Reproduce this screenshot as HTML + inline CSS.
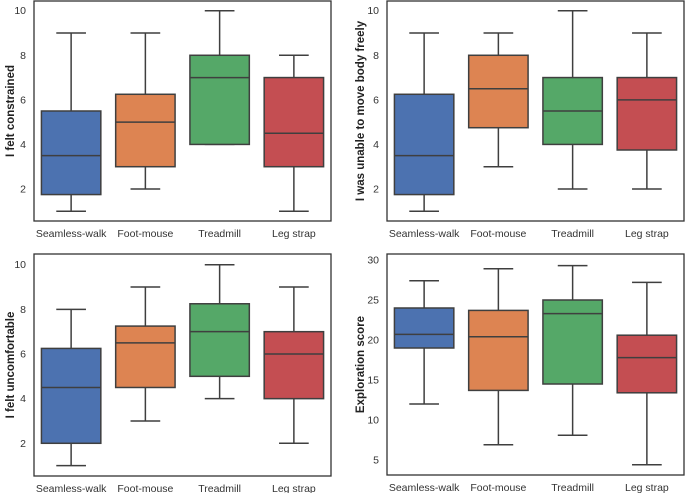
<!DOCTYPE html>
<html><head><meta charset="utf-8"><style>
html,body{margin:0;padding:0;background:#fff;}
svg{display:block;font-family:"Liberation Sans","DejaVu Sans",sans-serif;}
</style></head><body>
<svg id="fig" width="685" height="493" viewBox="0 0 685 493" xmlns="http://www.w3.org/2000/svg"></svg>
<script>
const categories = ["Seamless-walk","Foot-mouse","Treadmill","Leg strap"];
const colors = ["#4c72b0","#dd8452","#55a868","#c44e52"];
// [min, q1, median, q3, max]
const constrainedStats = [[1,1.75,3.5,5.5,9],[2,3,5,6.25,9],[4,4,7,8,10],[1,3,4.5,7,8]];
const moveFreelyStats = [[1,1.75,3.5,6.25,9],[3,4.75,6.5,8,9],[2,4,5.5,7,10],[2,3.75,6,7,9]];
const uncomfortableStats = [[1,2,4.5,6.25,8],[3,4.5,6.5,7.25,9],[4,5,7,8.25,10],[2,4,6,7,9]];
const explorationStats = [[12,19,20.7,24,27.4],[6.9,13.7,20.4,23.7,28.9],[8.1,14.5,23.3,25,29.3],[4.4,13.4,17.8,20.6,27.2]];
const likertTicks = [2,4,6,8,10];
const explorationTicks = [5,10,15,20,25,30];

const panels = [
  {name:"constrained", label:"I felt constrained", stats:constrainedStats, ticks:likertTicks,
   l:34,r:331,t:1,b:221, y0:2,py0:189, y1:10,py1:10.7, labX:14},
  {name:"move-freely", label:"I was unable to move body freely", stats:moveFreelyStats, ticks:likertTicks,
   l:387,r:684,t:1,b:221, y0:2,py0:189, y1:10,py1:10.7, labX:364},
  {name:"uncomfortable", label:"I felt uncomfortable", stats:uncomfortableStats, ticks:likertTicks,
   l:34,r:331,t:254,b:476, y0:2,py0:443.3, y1:10,py1:264.7, labX:14},
  {name:"exploration", label:"Exploration score", stats:explorationStats, ticks:explorationTicks,
   l:387,r:684,t:254,b:475, y0:5,py0:460, y1:30,py1:260, labX:364}
];
const NS="http://www.w3.org/2000/svg";
const svg=document.getElementById("fig");
function mk(tag,attrs,parent){const e=document.createElementNS(NS,tag);for(const k in attrs)e.setAttribute(k,attrs[k]);(parent||svg).appendChild(e);return e;}
panels.forEach(p=>{
  const g=mk("g",{});
  
  
  const ys=v=>p.py0+(v-p.y0)*(p.py1-p.py0)/(p.y1-p.y0);
  const band=(p.r-p.l)/categories.length;
  const xs=i=>p.l+band*(i+0.5);
  const bw=band*0.8;
  p.ticks.forEach(t=>{
    const tx=mk("text",{x:p.l-8,y:ys(t)+3.5,"text-anchor":"end","font-size":"10.5",fill:"#333"},g);
    tx.textContent=t;
    
    
  });
  const yl=mk("text",{x:0,y:0,transform:`translate(${p.labX},${(p.t+p.b)/2}) rotate(-90)`,"text-anchor":"middle","font-size":"11.5","font-weight":"bold",fill:"#222"},g);
  yl.textContent=p.label;
  
  
  categories.forEach((c,i)=>{
    const s=p.stats[i];const cx=xs(i);
    const bg=mk("g",{},g);
    
    
    const st={stroke:"#3f3f3f","stroke-width":"1.5",fill:"none"};
    mk("line",Object.assign({x1:cx,x2:cx,y1:ys(s[0]),y2:ys(s[1])},st),bg);
    mk("line",Object.assign({x1:cx,x2:cx,y1:ys(s[3]),y2:ys(s[4])},st),bg);
    mk("line",Object.assign({x1:cx-bw/4,x2:cx+bw/4,y1:ys(s[0]),y2:ys(s[0])},st),bg);
    mk("line",Object.assign({x1:cx-bw/4,x2:cx+bw/4,y1:ys(s[4]),y2:ys(s[4])},st),bg);
    mk("rect",{x:cx-bw/2,y:ys(s[3]),width:bw,height:ys(s[1])-ys(s[3]),fill:colors[i],stroke:"#3f3f3f","stroke-width":"1.5"},bg);
    mk("line",Object.assign({x1:cx-bw/2,x2:cx+bw/2,y1:ys(s[2]),y2:ys(s[2])},st),bg);
    const xl=mk("text",{x:cx,y:p.b+16,"text-anchor":"middle","font-size":"10.5",fill:"#333"},g);
    xl.textContent=c;
    
    
  });
  const fr=mk("rect",{x:p.l,y:p.t,width:p.r-p.l,height:p.b-p.t,fill:"none",stroke:"#333","stroke-width":"1.3"},g);
  
  
});
</script>
</body></html>
